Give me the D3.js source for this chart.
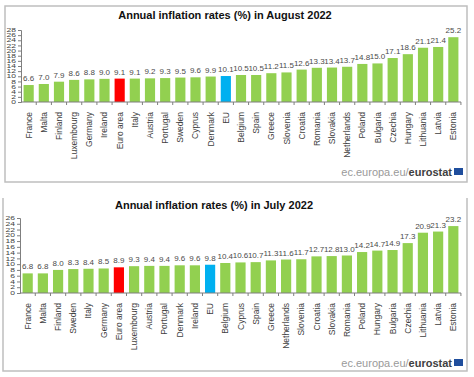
<!DOCTYPE html>
<html>
<head>
<meta charset="utf-8">
<script src="https://cdn.jsdelivr.net/npm/d3@7"></script>
<style>
    body { margin: 0; background: #fff; }
    svg { display: block; font-family: "Liberation Sans", Arial, sans-serif; }
</style>
</head>
<body>
<div id="chart"></div>
<script>
// August 2022
const augCountries = ["France", "Malta", "Finland", "Luxembourg", "Germany", "Ireland", "Euro area", "Italy",
    "Austria", "Portugal", "Sweden", "Cyprus", "Denmark", "EU", "Belgium", "Spain", "Greece", "Slovenia",
    "Croatia", "Romania", "Slovakia", "Netherlands", "Poland", "Bulgaria", "Czechia", "Hungary",
    "Lithuania", "Latvia", "Estonia"];
const augValues = [6.6, 7.0, 7.9, 8.6, 8.8, 9.0, 9.1, 9.1, 9.2, 9.3, 9.5, 9.6, 9.9, 10.1, 10.5, 10.5,
    11.2, 11.5, 12.6, 13.3, 13.4, 13.7, 14.8, 15.0, 17.1, 18.6, 21.1, 21.4, 25.2];
const augTicks = d3.range(0, 29, 2);

// July 2022
const julCountries = ["France", "Malta", "Finland", "Sweden", "Italy", "Germany", "Euro area", "Luxembourg",
    "Austria", "Portugal", "Denmark", "Ireland", "EU", "Belgium", "Cyprus", "Spain", "Greece", "Netherlands",
    "Slovenia", "Croatia", "Slovakia", "Romania", "Poland", "Hungary", "Bulgaria", "Czechia",
    "Lithuania", "Latvia", "Estonia"];
const julValues = [6.8, 6.8, 8.0, 8.3, 8.4, 8.5, 8.9, 9.3, 9.4, 9.4, 9.6, 9.6, 9.8, 10.4, 10.6, 10.7,
    11.3, 11.6, 11.7, 12.7, 12.8, 13.0, 14.2, 14.7, 14.9, 17.3, 20.9, 21.3, 23.2];
const julTicks = d3.range(0, 27, 2);

const GREEN = "#92d050", RED = "#ff0000", BLUE = "#00b0f0";

const svg = d3.select("#chart").append("svg")
    .attr("width", 474)
    .attr("height", 377);

function barColor(c) {
    if (c === "Euro area") return RED;
    if (c === "EU") return BLUE;
    return GREEN;
}

function drawPanel(cfg) {
    const g = svg.append("g");
    const b = cfg.box;

    // frame (bottom panel has no visible top edge)
    const frame = cfg.topEdge
        ? `M${b.x},${b.y}H${b.x + b.w}V${b.y + b.h}H${b.x}Z`
        : `M${b.x},${b.y}V${b.y + b.h}H${b.x + b.w}V${b.y}`;
    g.append("path")
        .attr("d", frame)
        .attr("fill", "none")
        .attr("stroke", "#bfbfbf")
        .attr("stroke-width", 1.5);

    g.append("text")
        .attr("x", cfg.titleX)
        .attr("y", cfg.titleY)
        .attr("text-anchor", "middle")
        .style("font-size", "11px")
        .style("font-weight", "bold")
        .style("fill", "#111")
        .text(cfg.title);

    const x = d3.scaleBand()
        .domain(cfg.countries)
        .range(cfg.xRange)
        .paddingInner(0.33)
        .paddingOuter(0.17);

    const y = d3.scaleLinear()
        .domain([0, cfg.ticks[cfg.ticks.length - 1]])
        .range(cfg.yRange);

    // y axis with squashed labels
    const yAxis = g.append("g")
        .attr("transform", `translate(${cfg.xRange[0]},0)`)
        .call(d3.axisLeft(y).tickValues(cfg.ticks).tickSize(3).tickPadding(2));
    yAxis.selectAll("path, line").attr("stroke", "#7f7f7f");
    yAxis.selectAll("text")
        .attr("transform", "scale(1,0.62)")
        .style("font-size", "8.5px")
        .style("fill", "#404040")
        .style("font-family", "'Liberation Sans', Arial, sans-serif");

    // bars
    const data = cfg.countries.map((c, i) => ({ country: c, value: cfg.values[i] }));
    g.selectAll(".bar")
        .data(data)
        .enter()
        .append("rect")
        .attr("class", "bar")
        .attr("x", d => x(d.country))
        .attr("y", d => y(d.value))
        .attr("width", x.bandwidth())
        .attr("height", d => y(0) - y(d.value))
        .attr("fill", d => barColor(d.country));

    // value labels
    g.selectAll(".val")
        .data(data)
        .enter()
        .append("text")
        .attr("class", "val")
        .attr("x", d => x(d.country) + x.bandwidth() / 2)
        .attr("y", d => y(d.value) - 4)
        .attr("text-anchor", "middle")
        .style("font-size", "8px")
        .style("fill", "#4a4a4a")
        .text(d => d.value.toFixed(1));

    // x axis line + boundary ticks
    g.append("line")
        .attr("x1", cfg.xRange[0])
        .attr("x2", cfg.xRange[1])
        .attr("y1", y(0))
        .attr("y2", y(0))
        .attr("stroke", "#7f7f7f");
    const gap = x.step() * x.paddingInner() / 2;
    g.selectAll(".xtick")
        .data(cfg.countries)
        .enter()
        .append("line")
        .attr("x1", d => x(d) + x.bandwidth() + gap)
        .attr("x2", d => x(d) + x.bandwidth() + gap)
        .attr("y1", y(0))
        .attr("y2", y(0) + 3)
        .attr("stroke", "#7f7f7f");

    // rotated category labels
    g.selectAll(".xlab")
        .data(cfg.countries)
        .enter()
        .append("text")
        .attr("class", "xlab")
        .attr("transform", d => `translate(${x(d) + x.bandwidth() / 2 + 3},${y(0) + 10}) rotate(-90)`)
        .attr("text-anchor", "end")
        .style("font-size", "8.5px")
        .style("fill", "#404040")
        .text(d => d);

    // eurostat mark
    const brand = g.append("text")
        .attr("x", cfg.brandX)
        .attr("y", cfg.brandY)
        .attr("text-anchor", "end")
        .style("font-size", "11px");
    brand.append("tspan").style("fill", "#9a9a9a").text("ec.europa.eu/");
    brand.append("tspan").style("fill", "#404040").style("font-weight", "bold").text("eurostat");
    g.append("rect")
        .attr("x", cfg.brandX + 2)
        .attr("y", cfg.brandY - 8)
        .attr("width", 9)
        .attr("height", 7)
        .attr("fill", "#1f4e9d");
}

drawPanel({
    box: { x: 5, y: 6, w: 462, h: 176 },
    topEdge: true,
    title: "Annual inflation rates (%) in August 2022",
    titleX: 225, titleY: 19,
    countries: augCountries,
    values: augValues,
    ticks: augTicks,
    xRange: [21, 461],
    yRange: [102, 30],
    brandX: 452, brandY: 176
});

drawPanel({
    box: { x: 3, y: 198, w: 464, h: 173 },
    topEdge: false,
    title: "Annual inflation rates (%) in July 2022",
    titleX: 214, titleY: 209,
    countries: julCountries,
    values: julValues,
    ticks: julTicks,
    xRange: [20, 461],
    yRange: [293, 218],
    brandX: 452, brandY: 367
});
</script>
</body>
</html>
